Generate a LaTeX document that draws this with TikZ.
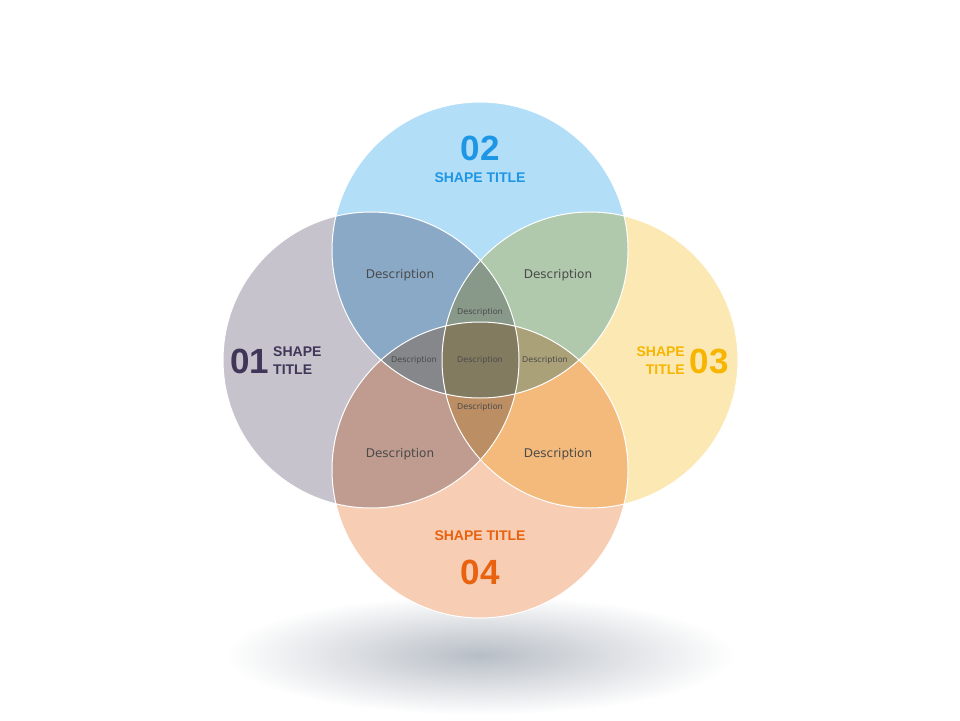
\documentclass[tikz,border=0pt]{standalone}
\usepackage{fontspec}
\setmainfont{Liberation Sans}
\newfontfamily\descfont{DejaVu Sans}
\definecolor{cblue}{HTML}{B3DEF8}
\definecolor{cgrey}{HTML}{C6C3CD}
\definecolor{cyel}{HTML}{FCE8B2}
\definecolor{corg}{HTML}{F7CDB3}
\definecolor{tblue}{HTML}{1E96E6}
\definecolor{tgrey}{HTML}{3F3658}
\definecolor{tyel}{HTML}{F7B500}
\definecolor{torg}{HTML}{E8620F}
\definecolor{dtext}{HTML}{4A4A4A}
\definecolor{shad}{HTML}{B8BEC6}
\begin{document}
\begin{tikzpicture}[x=1pt,y=-1pt,
  ring/.style={circle,minimum size=296pt,inner sep=0pt},
  desc/.style={font=\descfont\fontsize{12}{14}\selectfont,text=dtext},
  sdesc/.style={font=\descfont\fontsize{8}{10}\selectfont,text=dtext},
  num/.style={font=\bfseries\fontsize{35}{38}\selectfont},
  ttl/.style={font=\bfseries\fontsize{14}{18}\selectfont,align=center}]
\useasboundingbox (0,0) rectangle (960,720);
\shade[inner color=shad,outer color=white] (480,655) ellipse [x radius=255pt,y radius=60pt];
\begin{scope}[blend group=multiply]
\node[ring,fill=cblue] (top) at (480,250) {};
\node[ring,fill=cgrey] (left) at (371,360) {};
\node[ring,fill=cyel] (right) at (590,360) {};
\node[ring,fill=corg] (bot) at (480,470) {};
\end{scope}
\foreach \n in {top,left,right,bot} \draw[white,line width=1pt] (\n) circle (148pt);
\node[num,text=tblue] (n2) at (480,148) {02};
\node[ttl,text=tblue] (t2) at (480,178) {SHAPE TITLE};
\node[num,text=tgrey] (n1) at (250,361) {01};
\node[ttl,text=tgrey,align=left,anchor=west,inner sep=1pt] (t1) at (272,361) {SHAPE\\TITLE};
\node[num,text=tyel] (n3) at (709,361) {03};
\node[ttl,text=tyel,align=right,anchor=east,inner sep=1pt] (t3) at (686,361) {SHAPE\\TITLE};
\node[ttl,text=torg] (t4) at (480,536) {SHAPE TITLE};
\node[num,text=torg] (n4) at (480,572) {04};
\node[desc] (d1) at (400,275) {Description};
\node[desc] (d2) at (558,275) {Description};
\node[desc] (d3) at (400,454) {Description};
\node[desc] (d4) at (558,454) {Description};
\node[sdesc] (s1) at (480,312) {Description};
\node[sdesc] (s2) at (414,360) {Description};
\node[sdesc] (s3) at (480,360) {Description};
\node[sdesc] (s4) at (545,360) {Description};
\node[sdesc] (s5) at (480,407) {Description};
\end{tikzpicture}
\end{document}
